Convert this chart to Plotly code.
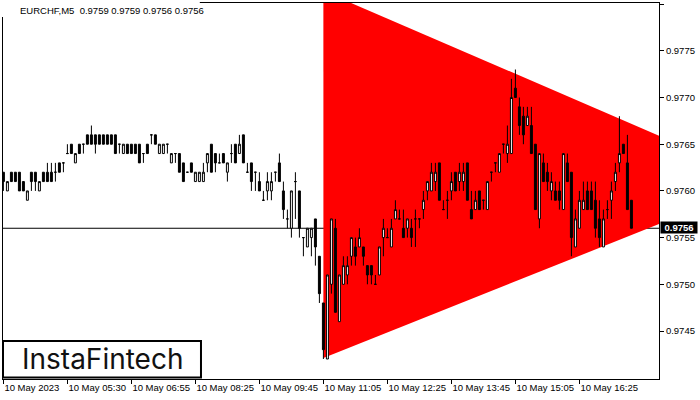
import plotly.graph_objects as go

# ---- data (EURCHF M5) ----
bar_index = list(range(158))

opens = [0.9762, 0.9760, 0.9762, 0.9762, 0.9762, 0.9761, 0.9759, 0.9762, 0.9762, 0.9760,
         0.9762, 0.9762, 0.9762, 0.9762, 0.9763, 0.9763, 0.9764, 0.9765, 0.9763, 0.9765,
         0.9765, 0.9766, 0.9766, 0.9766, 0.9766, 0.9766, 0.9766, 0.9766, 0.9766, 0.9765,
         0.9764, 0.9765, 0.9765, 0.9765, 0.9765, 0.9764, 0.9765, 0.9766, 0.9766, 0.9764,
         0.9764, 0.9765, 0.9763, 0.9764, 0.9764, 0.9763, 0.9762, 0.9763, 0.9761, 0.9761,
         0.9761, 0.9763, 0.9765, 0.9764, 0.9763, 0.9764, 0.9762, 0.9764, 0.9765, 0.9764,
         0.9766, 0.9762, 0.9763, 0.9762, 0.9761, 0.9759, 0.9760, 0.9760, 0.9762, 0.9763,
         0.9760, 0.9757, 0.9756, 0.9761, 0.9760, 0.9755, 0.9754, 0.9755, 0.9757, 0.9753,
         0.9748, 0.9742, 0.9750, 0.9756, 0.9746, 0.9750, 0.9751, 0.9753, 0.9754, 0.9754,
         0.9754, 0.9752, 0.9752, 0.9750, 0.9751, 0.9755, 0.9755, 0.9754, 0.9757, 0.9757,
         0.9756, 0.9756, 0.9756, 0.9757, 0.9757, 0.9758, 0.9760, 0.9760, 0.9761, 0.9763,
         0.9758, 0.9759, 0.9760, 0.9762, 0.9761, 0.9761, 0.9763, 0.9758, 0.9758, 0.9760,
         0.9759, 0.9758, 0.9762, 0.9763, 0.9762, 0.9765, 0.9764, 0.9764, 0.9771, 0.9769,
         0.9768, 0.9767, 0.9767, 0.9765, 0.9757, 0.9763, 0.9762, 0.9760, 0.9760, 0.9760,
         0.9758, 0.9763, 0.9762, 0.9754, 0.9756, 0.9758, 0.9760, 0.9760, 0.9759, 0.9757,
         0.9754, 0.9758, 0.9759, 0.9761, 0.9763, 0.9765, 0.9763, 0.9759]

highs = [0.9762, 0.9761, 0.9762, 0.9762, 0.9762, 0.9761, 0.9760, 0.9762, 0.9762, 0.9761,
         0.9762, 0.9763, 0.9763, 0.9763, 0.9763, 0.9763, 0.9765, 0.9765, 0.9764, 0.9765,
         0.9765, 0.9766, 0.9767, 0.9766, 0.9766, 0.9766, 0.9766, 0.9766, 0.9766, 0.9765,
         0.9765, 0.9765, 0.9765, 0.9765, 0.9765, 0.9764, 0.9765, 0.9766, 0.9766, 0.9765,
         0.9765, 0.9765, 0.9764, 0.9764, 0.9764, 0.9763, 0.9762, 0.9763, 0.9762, 0.9762,
         0.9763, 0.9764, 0.9765, 0.9764, 0.9764, 0.9764, 0.9763, 0.9765, 0.9765, 0.9766,
         0.9766, 0.9763, 0.9763, 0.9762, 0.9762, 0.9760, 0.9762, 0.9762, 0.9762, 0.9764,
         0.9761, 0.9758, 0.9760, 0.9762, 0.9760, 0.9755, 0.9756, 0.9756, 0.9757, 0.9753,
         0.9748, 0.9751, 0.9757, 0.9757, 0.9751, 0.9753, 0.9753, 0.9755, 0.9755, 0.9756,
         0.9754, 0.9752, 0.9752, 0.9751, 0.9754, 0.9757, 0.9756, 0.9757, 0.9759, 0.9758,
         0.9758, 0.9757, 0.9757, 0.9758, 0.9757, 0.9760, 0.9761, 0.9763, 0.9763, 0.9763,
         0.9759, 0.9760, 0.9762, 0.9762, 0.9763, 0.9763, 0.9763, 0.9760, 0.9760, 0.9760,
         0.9759, 0.9761, 0.9762, 0.9763, 0.9764, 0.9765, 0.9767, 0.9772, 0.9773, 0.9770,
         0.9769, 0.9769, 0.9769, 0.9765, 0.9764, 0.9764, 0.9763, 0.9762, 0.9761, 0.9761,
         0.9764, 0.9764, 0.9762, 0.9758, 0.9760, 0.9761, 0.9761, 0.9761, 0.9761, 0.9759,
         0.9758, 0.9759, 0.9761, 0.9763, 0.9768, 0.9765, 0.9766, 0.9759]

lows = [0.9760, 0.9760, 0.9761, 0.9761, 0.9760, 0.9760, 0.9759, 0.9760, 0.9760, 0.9760,
        0.9761, 0.9761, 0.9761, 0.9761, 0.9762, 0.9762, 0.9764, 0.9764, 0.9763, 0.9764,
        0.9764, 0.9765, 0.9765, 0.9764, 0.9765, 0.9765, 0.9765, 0.9765, 0.9764, 0.9764,
        0.9764, 0.9764, 0.9764, 0.9764, 0.9763, 0.9763, 0.9764, 0.9765, 0.9765, 0.9764,
        0.9764, 0.9764, 0.9763, 0.9763, 0.9762, 0.9761, 0.9762, 0.9762, 0.9761, 0.9761,
        0.9761, 0.9762, 0.9762, 0.9762, 0.9763, 0.9763, 0.9761, 0.9763, 0.9763, 0.9764,
        0.9763, 0.9762, 0.9760, 0.9760, 0.9760, 0.9759, 0.9759, 0.9759, 0.9761, 0.9761,
        0.9757, 0.9756, 0.9755, 0.9757, 0.9755, 0.9753, 0.9754, 0.9753, 0.9752, 0.9748,
        0.9742, 0.9742, 0.9749, 0.9747, 0.9746, 0.9750, 0.9750, 0.9752, 0.9752, 0.9754,
        0.9752, 0.9750, 0.9750, 0.9750, 0.9751, 0.9753, 0.9755, 0.9754, 0.9757, 0.9757,
        0.9755, 0.9755, 0.9754, 0.9754, 0.9756, 0.9757, 0.9759, 0.9760, 0.9760, 0.9759,
        0.9758, 0.9757, 0.9759, 0.9760, 0.9760, 0.9760, 0.9759, 0.9757, 0.9758, 0.9758,
        0.9758, 0.9758, 0.9761, 0.9762, 0.9762, 0.9764, 0.9763, 0.9764, 0.9770, 0.9766,
        0.9765, 0.9767, 0.9764, 0.9758, 0.9756, 0.9761, 0.9760, 0.9759, 0.9759, 0.9758,
        0.9758, 0.9761, 0.9753, 0.9754, 0.9756, 0.9758, 0.9758, 0.9758, 0.9755, 0.9754,
        0.9754, 0.9757, 0.9757, 0.9760, 0.9762, 0.9764, 0.9758, 0.9756]

closes = [0.9761, 0.9761, 0.9761, 0.9761, 0.9760, 0.9760, 0.9760, 0.9761, 0.9761, 0.9761,
          0.9761, 0.9761, 0.9761, 0.9762, 0.9762, 0.9763, 0.9764, 0.9764, 0.9764, 0.9764,
          0.9765, 0.9765, 0.9765, 0.9765, 0.9765, 0.9765, 0.9765, 0.9765, 0.9764, 0.9765,
          0.9765, 0.9764, 0.9764, 0.9764, 0.9763, 0.9764, 0.9764, 0.9766, 0.9765, 0.9765,
          0.9765, 0.9765, 0.9764, 0.9764, 0.9762, 0.9761, 0.9762, 0.9762, 0.9762, 0.9762,
          0.9762, 0.9764, 0.9762, 0.9763, 0.9763, 0.9763, 0.9763, 0.9764, 0.9763, 0.9765,
          0.9763, 0.9762, 0.9761, 0.9762, 0.9760, 0.9759, 0.9761, 0.9761, 0.9762, 0.9761,
          0.9758, 0.9757, 0.9760, 0.9761, 0.9756, 0.9755, 0.9756, 0.9756, 0.9754, 0.9749,
          0.9743, 0.9751, 0.9757, 0.9747, 0.9751, 0.9752, 0.9752, 0.9755, 0.9753, 0.9755,
          0.9753, 0.9751, 0.9751, 0.9750, 0.9754, 0.9756, 0.9755, 0.9756, 0.9758, 0.9757,
          0.9755, 0.9757, 0.9755, 0.9757, 0.9757, 0.9759, 0.9761, 0.9762, 0.9762, 0.9759,
          0.9758, 0.9759, 0.9761, 0.9760, 0.9762, 0.9762, 0.9759, 0.9757, 0.9759, 0.9758,
          0.9759, 0.9761, 0.9762, 0.9763, 0.9764, 0.9765, 0.9765, 0.9770, 0.9770, 0.9767,
          0.9766, 0.9768, 0.9764, 0.9758, 0.9764, 0.9761, 0.9761, 0.9761, 0.9759, 0.9759,
          0.9764, 0.9761, 0.9755, 0.9757, 0.9759, 0.9759, 0.9758, 0.9758, 0.9756, 0.9755,
          0.9757, 0.9758, 0.9760, 0.9762, 0.9764, 0.9764, 0.9758, 0.9756]

x_tick_pos = [0, 16, 32, 48, 64, 80, 96, 112, 128, 144]
x_tick_labels = ["10 May 2023", "10 May 05:30", "10 May 06:55", "10 May 08:25",
                 "10 May 09:45", "10 May 11:05", "10 May 12:25", "10 May 13:45",
                 "10 May 15:05", "10 May 16:25"]
y_tick_vals = [0.9745, 0.9750, 0.9755, 0.9760, 0.9765, 0.9770, 0.9775, 0.9780]
y_tick_labels = ["0.9745", "0.9750", "0.9755", "0.9760", "0.9765", "0.9770", "0.9775", "0.9780"]

# symmetrical triangle pattern (left top, left bottom, apex)
pattern_x = [80, 80, 190.5]
pattern_y = [0.97814, 0.97421, 0.97610]

last_price = 0.9756
last_price_label = "0.9756"
header_text = "EURCHF,M5&nbsp; 0.9759 0.9759 0.9756 0.9756"
logo_text = "InstaFintech"

FONT = "Liberation Sans, Arial, sans-serif"

fig = go.Figure()

fig.add_trace(go.Candlestick(
    x=bar_index, open=opens, high=highs, low=lows, close=closes,
    increasing=dict(line=dict(color="black", width=1), fillcolor="white"),
    decreasing=dict(line=dict(color="black", width=1), fillcolor="black"),
    whiskerwidth=0, hoverinfo="skip", showlegend=False,
))

tri_path = "M {},{} L {},{} L {},{} Z".format(
    pattern_x[0], pattern_y[0], pattern_x[1], pattern_y[1], pattern_x[2], pattern_y[2])

shapes = [
    dict(type="path", path=tri_path, xref="x", yref="y", fillcolor="#ff0000",
         line=dict(width=0), layer="below"),
    dict(type="line", xref="paper", x0=0, x1=1, yref="y", y0=last_price, y1=last_price,
         line=dict(color="black", width=1), layer="below"),
    # white patch behind header
    dict(type="rect", xref="paper", yref="paper", x0=-0.01, x1=0.30, y0=0.963, y1=1.01,
         fillcolor="white", line=dict(width=0), layer="above"),
    # logo box
    dict(type="rect", xref="paper", yref="paper", x0=0.0, x1=0.3018, y0=0.004, y1=0.101,
         fillcolor="white", line=dict(color="black", width=2), layer="above"),
]

annotations = [
    dict(xref="paper", yref="paper", x=0.0229, y=0.981, xanchor="left", yanchor="middle",
         text=header_text, showarrow=False, font=dict(family=FONT, size=9.5, color="black")),
    dict(xref="paper", yref="y", x=1.0, y=last_price, xanchor="left", yanchor="middle",
         xshift=1, yshift=1, text="<b>" + last_price_label + "</b>", showarrow=False,
         bgcolor="black", borderpad=0, width=36, align="center",
         font=dict(family=FONT, size=9.5, color="white")),
    dict(xref="paper", yref="paper", x=0.151, y=0.052, xanchor="center", yanchor="middle",
         text=logo_text, showarrow=False, font=dict(family="Inter, Lato, sans-serif", size=28, color="#111111")),
]

fig.update_layout(
    width=700, height=400,
    margin=dict(l=3, r=41, t=3, b=21, autoexpand=False),
    paper_bgcolor="white", plot_bgcolor="white",
    shapes=shapes, annotations=annotations,
    showlegend=False,
    xaxis=dict(range=[-0.1, 163.9], tickmode="array", tickvals=x_tick_pos, ticktext=x_tick_labels,
               ticks="outside", ticklen=4, tickcolor="black", ticklabelposition="outside right",
               tickangle=0, automargin=False,
               showline=True, linecolor="black", linewidth=1, mirror=True,
               showgrid=False, zeroline=False, rangeslider=dict(visible=False),
               tickfont=dict(family=FONT, size=9.5, color="black")),
    yaxis=dict(range=[0.973986, 0.978012], side="right", tickmode="array",
               tickvals=y_tick_vals, ticktext=y_tick_labels, automargin=False,
               ticks="outside", ticklen=4, tickcolor="black",
               showline=True, linecolor="black", linewidth=1, mirror=True,
               showgrid=False, zeroline=False,
               tickfont=dict(family=FONT, size=9.5, color="black")),
)

fig.write_html("out.html", config={"displayModeBar": False},
               post_script="document.body.style.margin='0';document.body.style.padding='0';document.body.style.overflow='hidden';")
